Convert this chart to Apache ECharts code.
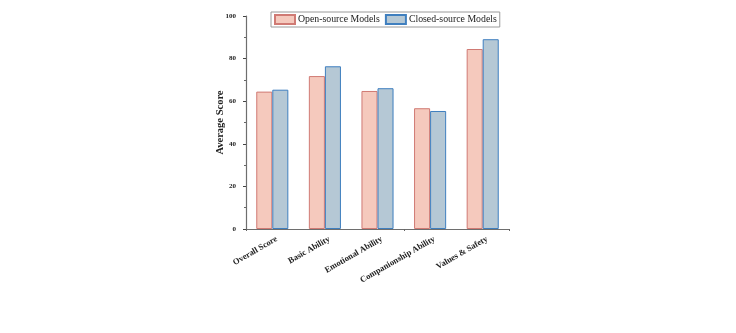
<!DOCTYPE html>
<html>
<head>
<meta charset="utf-8">
<script src="https://cdn.jsdelivr.net/npm/echarts@6/dist/echarts.min.js"></script>
<style>
html,body{margin:0;padding:0;background:#fff;}
#chart{width:736px;height:333px;}
</style>
</head>
<body>
<div id="chart"></div>
<script>
// Average scores per ability dimension
const categories = ['Overall Score', 'Basic Ability', 'Emotional Ability', 'Companionship Ability', 'Values & Safety'];
const openSource = [64.5, 71.8, 64.8, 56.7, 84.5];
const closedSource = [65.4, 76.4, 66.1, 55.4, 89.1];
const seriesNames = ['Open-source Models', 'Closed-source Models'];

const serif = 'Liberation Serif, Times New Roman, serif';
const axisGray = '#6e6e6e';

const chart = echarts.init(document.getElementById('chart'), null, { renderer: 'canvas' });
chart.setOption({
  animation: false,
  backgroundColor: '#fff',
  grid: { left: 246, right: 227, top: 16, bottom: 104 },
  legend: {
    data: seriesNames,
    icon: 'rect',
    left: 271,
    top: 12,
    itemWidth: 20,
    itemHeight: 9,
    itemGap: 5,
    padding: [2, 3, 2, 3],
    borderColor: '#9a9a9a',
    borderWidth: 1,
    textStyle: { fontFamily: serif, fontSize: 9.8, color: '#222', padding: [0, 0, 0, -2] }
  },
  xAxis: [{
    type: 'category',
    data: categories,
    axisLine: { lineStyle: { color: axisGray, width: 1.2 } },
    axisTick: { alignWithLabel: true, length: 4, lineStyle: { color: '#444' } },
    axisLabel: {
      rotate: 30,
      interval: 0,
      margin: 12,
      padding: [0, -5, 0, 0],
      fontFamily: serif,
      fontWeight: 'bold',
      fontSize: 8.5,
      color: '#222'
    }
  }, {
    // short boundary ticks between the category groups
    type: 'category',
    data: categories,
    position: 'bottom',
    axisLine: { show: false },
    axisTick: { show: true, length: 2, lineStyle: { color: '#666' } },
    axisLabel: { show: false }
  }],
  yAxis: {
    type: 'value',
    min: 0,
    max: 100,
    interval: 20,
    name: 'Average Score',
    nameLocation: 'middle',
    nameGap: 20,
    nameMoveOverlap: false,
    nameTextStyle: { fontFamily: serif, fontWeight: 'bold', fontSize: 10.5, color: '#222' },
    axisLine: { show: true, lineStyle: { color: axisGray, width: 1.2 } },
    axisTick: { show: true, length: 3, lineStyle: { color: '#444' } },
    minorTick: { show: true, splitNumber: 2, length: 2, lineStyle: { color: '#666' } },
    splitLine: { show: false },
    axisLabel: { fontFamily: serif, fontWeight: 'bold', fontSize: 7, color: '#222', margin: 10 }
  },
  series: [{
    name: seriesNames[0],
    type: 'bar',
    data: openSource,
    barGap: '0%',
    barCategoryGap: '39%',
    itemStyle: { color: '#f5c9bd', borderColor: '#d07a74', borderWidth: 1 }
  }, {
    name: seriesNames[1],
    type: 'bar',
    data: closedSource,
    itemStyle: { color: '#b5c8d5', borderColor: '#3f7fbf', borderWidth: 1 }
  }]
});
</script>
</body>
</html>
